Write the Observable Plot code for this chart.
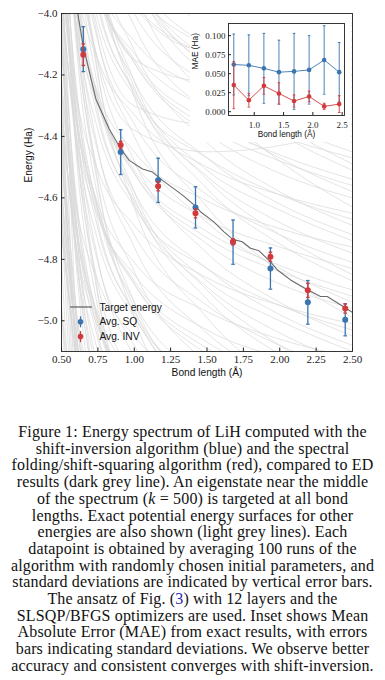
<!DOCTYPE html>
<html><head><meta charset="utf-8">
<script src="https://cdn.jsdelivr.net/npm/d3@7"></script>
<script src="https://cdn.jsdelivr.net/npm/@observablehq/plot@0.6"></script>
<style>
body{margin:0;background:#fff;width:385px;height:680px;overflow:hidden;position:relative;}
#main{position:absolute;left:0;top:0;}
#inset{position:absolute;left:190px;top:14px;}
#legend{position:absolute;left:0;top:0;}
#caption{position:absolute;left:0;top:424px;width:385px;text-align:center;font-family:"Liberation Serif",serif;font-size:16px;letter-spacing:0.15px;line-height:16.7px;color:#111;}
#caption div{white-space:nowrap;}
.ref{color:#1f1fb0;}
</style></head><body>
<div id="main"></div>
<svg id="legend" width="385" height="400"></svg>
<div id="inset"></div>
<div id="caption"></div>
<script>
// ---------- data ----------
const bondLength = [0.650, 0.907, 1.164, 1.421, 1.679, 1.936, 2.193, 2.450];
const sqEnergy  = [-4.116, -4.451, -4.543, -4.631, -4.744, -4.830, -4.940, -4.997];
const sqStd     = [0.073, 0.073, 0.072, 0.067, 0.072, 0.067, 0.071, 0.052];
const invEnergy = [-4.134, -4.428, -4.562, -4.650, -4.743, -4.792, -4.901, -4.960];
const invStd    = [0.035, 0.012, 0.015, 0.015, 0.010, 0.015, 0.023, 0.015];

const targetX = [0.605, 0.649, 0.736, 0.828, 0.908, 0.965, 1.057, 1.125, 1.194, 1.332, 1.421, 1.455, 1.547, 1.615, 1.677, 1.742, 1.799, 1.856, 1.934, 1.982, 2.074, 2.191, 2.280, 2.326, 2.447, 2.500];
const targetY = [-3.98, -4.105, -4.278, -4.376, -4.441, -4.478, -4.506, -4.516, -4.543, -4.591, -4.627, -4.645, -4.678, -4.710, -4.735, -4.743, -4.764, -4.772, -4.807, -4.834, -4.867, -4.899, -4.921, -4.921, -4.957, -4.973];

const maeSq     = [0.062, 0.061, 0.057, 0.052, 0.053, 0.055, 0.068, 0.052];
const maeSqStd  = [0.040, 0.040, 0.046, 0.042, 0.050, 0.045, 0.045, 0.039];
const maeInv    = [0.035, 0.015, 0.034, 0.024, 0.014, 0.020, 0.007, 0.010];
const maeInvStd = [0.031, 0.009, 0.011, 0.014, 0.008, 0.007, 0.004, 0.011];

const xTicks = [0.50, 0.75, 1.00, 1.25, 1.50, 1.75, 2.00, 2.25, 2.50];
const yTicks = [-5.0, -4.8, -4.6, -4.4, -4.2, -4.0];
const insetXTicks = [1.0, 1.5, 2.0, 2.5];
const insetYTicks = [0.000, 0.025, 0.050, 0.075, 0.100];

// other potential energy surfaces (light grey), sampled at surfaceX
const surfaceX = [0.5, 0.6, 0.75, 1.0, 1.5, 2.0, 2.5];
const surfaces = [
  [-2.92, -3.27, -3.54, -3.73, -3.89, -3.98, -4.04],
  [-2.49, -2.99, -3.37, -3.64, -3.87, -4.00, -4.09],
  [-1.89, -2.59, -3.12, -3.50, -3.82, -4.00, -4.13],
  [-2.82, -3.24, -3.56, -3.79, -3.99, -4.10, -4.18],
  [-2.30, -2.90, -3.36, -3.68, -3.96, -4.11, -4.22],
  [-1.71, -2.51, -3.11, -3.55, -3.91, -4.12, -4.27],
  [-2.87, -3.32, -3.66, -3.91, -4.11, -4.23, -4.31],
  [-2.60, -3.15, -3.56, -3.86, -4.11, -4.26, -4.36],
  [-3.28, -3.63, -3.90, -4.09, -4.25, -4.34, -4.40],
  [-2.85, -3.35, -3.73, -4.00, -4.23, -4.36, -4.45],
  [-2.25, -2.95, -3.48, -3.86, -4.18, -4.36, -4.49],
  [-3.18, -3.60, -3.92, -4.15, -4.35, -4.46, -4.54],
  [-2.66, -3.26, -3.72, -4.04, -4.32, -4.47, -4.58],
  [-2.07, -2.87, -3.47, -3.91, -4.27, -4.48, -4.63],
  [-3.23, -3.68, -4.02, -4.27, -4.47, -4.59, -4.67],
  [-2.96, -3.51, -3.92, -4.22, -4.47, -4.62, -4.72],
  [-3.64, -3.99, -4.26, -4.45, -4.61, -4.70, -4.76],
  [-3.21, -3.71, -4.09, -4.36, -4.59, -4.72, -4.81],
  [-2.61, -3.31, -3.84, -4.22, -4.54, -4.72, -4.85],
  [-3.54, -3.96, -4.28, -4.51, -4.71, -4.82, -4.90],
  [-3.02, -3.62, -4.08, -4.40, -4.68, -4.83, -4.94],
  [-2.43, -3.23, -3.83, -4.27, -4.63, -4.84, -4.99],
  [-3.59, -4.04, -4.38, -4.63, -4.83, -4.95, -5.03],
  [-3.32, -3.87, -4.28, -4.58, -4.83, -4.98, -5.08],
  [-4.00, -4.35, -4.62, -4.81, -4.97, -5.06, -5.12],
  [-3.57, -4.07, -4.45, -4.72, -4.95, -5.08, -5.17],
  [-2.97, -3.67, -4.20, -4.58, -4.90, -5.08, -5.21],
  [-3.90, -4.32, -4.64, -4.87, -5.07, -5.18, -5.26],
  [-3.38, -3.98, -4.44, -4.76, -5.04, -5.19, -5.30],
  [-2.79, -3.59, -4.19, -4.63, -4.99, -5.20, -5.35],
  [-3.95, -4.40, -4.74, -4.99, -5.19, -5.31, -5.39],
  [-3.68, -4.23, -4.64, -4.94, -5.19, -5.34, -5.44],
  [-4.36, -4.71, -4.98, -5.17, -5.33, -5.42, -5.48],
  [-3.93, -4.43, -4.81, -5.08, -5.31, -5.44, -5.53],
  [-3.33, -4.03, -4.56, -4.94, -5.26, -5.44, -5.57],
  [-4.26, -4.68, -5.00, -5.23, -5.43, -5.54, -5.62],
  [-3.74, -4.34, -4.80, -5.12, -5.40, -5.55, -5.66],
  [-3.15, -3.95, -4.55, -4.99, -5.35, -5.56, -5.71],
  [-4.31, -4.76, -5.10, -5.35, -5.55, -5.67, -5.75],
  [-4.04, -4.59, -5.00, -5.30, -5.55, -5.70, -5.80],
  [-4.72, -5.07, -5.34, -5.53, -5.69, -5.78, -5.84],
  [-4.29, -4.79, -5.17, -5.44, -5.67, -5.80, -5.89],
  [-3.69, -4.39, -4.92, -5.30, -5.62, -5.80, -5.93],
  [-4.62, -5.04, -5.36, -5.59, -5.79, -5.90, -5.98],
  [-4.10, -4.70, -5.16, -5.48, -5.76, -5.91, -6.02],
  [-3.51, -4.31, -4.91, -5.35, -5.71, -5.92, -6.07],
  [-4.67, -5.12, -5.46, -5.71, -5.91, -6.03, -6.11],
  [-4.40, -4.95, -5.36, -5.66, -5.91, -6.06, -6.16],
  [-5.08, -5.43, -5.70, -5.89, -6.05, -6.14, -6.20],
  [-4.65, -5.15, -5.53, -5.80, -6.03, -6.16, -6.25],
  [-4.05, -4.75, -5.28, -5.66, -5.98, -6.16, -6.29],
  [-4.98, -5.40, -5.72, -5.95, -6.15, -6.26, -6.34],
  [-4.46, -5.06, -5.52, -5.84, -6.12, -6.27, -6.38],
  [-3.87, -4.67, -5.27, -5.71, -6.07, -6.28, -6.43],
  [-2.50, -3.30, -3.85, -4.15, -4.22, -4.18, -4.08],
  [-2.90, -3.60, -4.05, -4.30, -4.36, -4.30, -4.20],
  [-3.10, -3.75, -4.15, -4.38, -4.45, -4.43, -4.36],
  [-2.20, -3.00, -3.60, -3.98, -4.12, -4.10, -4.03],
  [-2.19, -2.81, -3.24, -3.54, -3.81, -3.96, -4.06],
  [-2.91, -3.31, -3.58, -3.77, -3.95, -4.04, -4.11],
  [-1.90, -2.65, -3.16, -3.52, -3.85, -4.03, -4.15],
  [-2.77, -3.25, -3.57, -3.80, -4.01, -4.12, -4.20],
  [-2.67, -3.19, -3.55, -3.80, -4.03, -4.16, -4.24],
  [-3.16, -3.54, -3.79, -3.97, -4.14, -4.23, -4.29],
  [-2.31, -2.98, -3.44, -3.76, -4.06, -4.22, -4.33],
  [-2.65, -3.23, -3.62, -3.89, -4.15, -4.28, -4.38],
  [-2.55, -3.17, -3.60, -3.90, -4.17, -4.32, -4.42],
  [-3.27, -3.67, -3.94, -4.13, -4.31, -4.40, -4.47],
  [-2.26, -3.01, -3.52, -3.88, -4.21, -4.39, -4.51],
  [-3.13, -3.61, -3.93, -4.16, -4.37, -4.48, -4.56],
  [-3.03, -3.55, -3.91, -4.16, -4.39, -4.52, -4.60],
  [-3.52, -3.90, -4.15, -4.33, -4.50, -4.59, -4.65],
  [-2.67, -3.34, -3.80, -4.12, -4.42, -4.58, -4.69],
  [-3.01, -3.59, -3.98, -4.25, -4.51, -4.64, -4.74],
  [-2.91, -3.53, -3.96, -4.26, -4.53, -4.68, -4.78],
  [-3.63, -4.03, -4.30, -4.49, -4.67, -4.76, -4.83],
  [-2.62, -3.37, -3.88, -4.24, -4.57, -4.75, -4.87],
  [-3.49, -3.97, -4.29, -4.52, -4.73, -4.84, -4.92],
  [-3.39, -3.91, -4.27, -4.52, -4.75, -4.88, -4.96],
  [-3.88, -4.26, -4.51, -4.69, -4.86, -4.95, -5.01],
  [-3.03, -3.70, -4.16, -4.48, -4.78, -4.94, -5.05],
  [-3.37, -3.95, -4.34, -4.61, -4.87, -5.00, -5.10],
  [-3.27, -3.89, -4.32, -4.62, -4.89, -5.04, -5.14],
  [-3.99, -4.39, -4.66, -4.85, -5.03, -5.12, -5.19],
  [-2.98, -3.73, -4.24, -4.60, -4.93, -5.11, -5.23],
  [-3.85, -4.33, -4.65, -4.88, -5.09, -5.20, -5.28],
  [-3.75, -4.27, -4.63, -4.88, -5.11, -5.24, -5.32],
  [-4.24, -4.62, -4.87, -5.05, -5.22, -5.31, -5.37],
  [-3.39, -4.06, -4.52, -4.84, -5.14, -5.30, -5.41],
  [-3.73, -4.31, -4.70, -4.97, -5.23, -5.36, -5.46],
  [-3.63, -4.25, -4.68, -4.98, -5.25, -5.40, -5.50],
  [-4.35, -4.75, -5.02, -5.21, -5.39, -5.48, -5.55],
  [-3.34, -4.09, -4.60, -4.96, -5.29, -5.47, -5.59],
  [-4.21, -4.69, -5.01, -5.24, -5.45, -5.56, -5.64],
  [-4.11, -4.63, -4.99, -5.24, -5.47, -5.60, -5.68],
  [-4.60, -4.98, -5.23, -5.41, -5.58, -5.67, -5.73],
  [-3.75, -4.42, -4.88, -5.20, -5.50, -5.66, -5.77],
  [-4.09, -4.67, -5.06, -5.33, -5.59, -5.72, -5.82],
  [-3.99, -4.61, -5.04, -5.34, -5.61, -5.76, -5.86],
  [-4.71, -5.11, -5.38, -5.57, -5.75, -5.84, -5.91],
  [-3.70, -4.45, -4.96, -5.32, -5.65, -5.83, -5.95],
  [-4.57, -5.05, -5.37, -5.60, -5.81, -5.92, -6.00],
  [-4.47, -4.99, -5.35, -5.60, -5.83, -5.96, -6.04],
  [-4.96, -5.34, -5.59, -5.77, -5.94, -6.03, -6.09],
  [-4.11, -4.78, -5.24, -5.56, -5.86, -6.02, -6.13],
  [-4.45, -5.03, -5.42, -5.69, -5.95, -6.08, -6.18],
  [-4.35, -4.97, -5.40, -5.70, -5.97, -6.12, -6.22],
  [-4.06, -4.81, -5.32, -5.68, -6.01, -6.19, -6.31],
  [-4.43, -5.10, -5.56, -5.88, -6.18, -6.34, -6.45],
  [-4.35, -5.10, -5.61, -5.97, -6.30, -6.48, -6.60],
  [-3.80, -5.00, -5.80, -6.30, -6.70, -6.90, -7.00],
  [-4.20, -5.30, -6.00, -6.40, -6.80, -7.00, -7.10],
  [-4.50, -5.45, -6.10, -6.50, -6.90, -7.10, -7.20],
  [-4.80, -5.60, -6.20, -6.60, -7.00, -7.20, -7.30],
  [-4.00, -5.15, -5.90, -6.35, -6.75, -6.95, -7.05],
  [-4.35, -5.38, -6.05, -6.45, -6.85, -7.05, -7.15],
  [-4.65, -5.52, -6.15, -6.55, -6.95, -7.15, -7.25],
  [-4.95, -5.70, -6.25, -6.65, -7.05, -7.25, -7.35]
];

// ---------- build ----------
const blue = "#3a75b0", red = "#d13a3c", dark = "#6a6a6a";
const idx = d3.range(bondLength.length);
const surfData = surfaces.flatMap((row, i) => row.map((e, j) => ({curve: i, x: surfaceX[j], y: e})));
const targetData = targetX.map((x, i) => ({x, y: targetY[i]}));
const cap = w => ({draw(ctx) { ctx.moveTo(-w, 0); ctx.lineTo(w, 0); }});
const minus = s => s.replace("-", "\u2212");

function errMarks(xs, ys, ss, color, opts) {
  const {sw, capw, r} = opts;
  return [
    Plot.ruleX(idx, {x: i => xs[i], y1: i => ys[i] - ss[i], y2: i => ys[i] + ss[i], stroke: color, strokeWidth: sw}),
    Plot.dot(idx, {x: i => xs[i], y: i => ys[i] - ss[i], symbol: cap(capw), stroke: color, strokeWidth: sw, fill: "none"}),
    Plot.dot(idx, {x: i => xs[i], y: i => ys[i] + ss[i], symbol: cap(capw), stroke: color, strokeWidth: sw, fill: "none"}),
    Plot.dot(idx, {x: i => xs[i], y: i => ys[i], r, fill: color, stroke: "none"})
  ];
}

const main = Plot.plot({
  width: 385, height: 390,
  marginLeft: 61, marginRight: 33, marginTop: 13, marginBottom: 39,
  style: {background: "transparent", fontFamily: "'Liberation Serif', serif", fontSize: "11px", color: "#222"},
  x: {domain: [0.5, 2.5], label: null},
  y: {domain: [-5.1, -4.0], label: null},
  marks: [
    Plot.line(surfData, {x: "x", y: "y", z: "curve", stroke: "#d9d9d9", strokeWidth: 0.7, curve: "monotone-x", clip: true}),
    Plot.line(targetData, {x: "x", y: "y", stroke: dark, strokeWidth: 1.1, clip: true}),
    ...errMarks(bondLength, sqEnergy, sqStd, blue, {sw: 1.3, capw: 1.8, r: 3}),
    ...errMarks(bondLength, invEnergy, invStd, red, {sw: 1.3, capw: 1.8, r: 3}),
    Plot.frame({stroke: "#222", strokeWidth: 0.9}),
    Plot.axisX({ticks: xTicks, tickSize: -3.5, tickFormat: () => "", stroke: "#222"}),
    Plot.axisX({ticks: xTicks, tickSize: 0, tickPadding: 4, tickFormat: d3.format(".2f"), label: null}),
    Plot.axisY({ticks: yTicks, tickSize: -3.5, tickFormat: () => "", stroke: "#222"}),
    Plot.axisY({ticks: yTicks, tickSize: 0, tickPadding: 4, tickFormat: d => minus(d.toFixed(1)), label: null}),
    Plot.text(["Bond length (\u00c5)"], {frameAnchor: "bottom", dy: 24, fontFamily: "'Liberation Sans', Arial, sans-serif", fontSize: 10.2, fill: "#111"}),
    Plot.text(["Energy (Ha)"], {frameAnchor: "left", dx: -33, rotate: -90, fontFamily: "'Liberation Sans', Arial, sans-serif", fontSize: 10.2, fill: "#111"})
  ]
});
document.getElementById("main").append(main);

const inset = Plot.plot({
  width: 161, height: 128,
  marginLeft: 38, marginRight: 7, marginTop: 9, marginBottom: 27,
  style: {background: "#fff", fontFamily: "'Liberation Serif', serif", fontSize: "9px", color: "#222"},
  x: {domain: [0.56, 2.54], label: null},
  y: {domain: [-0.005, 0.116], label: null},
  marks: [
    Plot.line(idx, {x: i => bondLength[i], y: i => maeSq[i], stroke: blue, strokeWidth: 0.9}),
    Plot.line(idx, {x: i => bondLength[i], y: i => maeInv[i], stroke: red, strokeWidth: 0.9}),
    ...errMarks(bondLength, maeSq, maeSqStd, blue, {sw: 0.9, capw: 1.3, r: 2.3}),
    ...errMarks(bondLength, maeInv, maeInvStd, red, {sw: 0.9, capw: 1.3, r: 2.3}),
    Plot.frame({stroke: "#222", strokeWidth: 0.9}),
    Plot.axisX({ticks: insetXTicks, tickSize: -3, tickFormat: () => "", stroke: "#222"}),
    Plot.axisX({ticks: insetXTicks, tickSize: 0, tickPadding: 6, tickFormat: d3.format(".1f"), label: null}),
    Plot.axisY({ticks: insetYTicks, tickSize: -3, tickFormat: () => "", stroke: "#222"}),
    Plot.axisY({ticks: insetYTicks, tickSize: 0, tickPadding: 3, tickFormat: d3.format(".3f"), label: null}),
    Plot.text(["Bond length (\u00c5)"], {frameAnchor: "bottom", dy: 21, fontFamily: "'Liberation Sans', Arial, sans-serif", fontSize: 8.3, fill: "#111"}),
    Plot.text(["MAE (Ha)"], {frameAnchor: "left", dx: -33, rotate: -90, fontFamily: "'Liberation Sans', Arial, sans-serif", fontSize: 8.3, fill: "#111"})
  ]
});
document.getElementById("inset").append(inset);

// legend
const lg = d3.select("#legend");
const legendItems = [
  {label: "Target energy", kind: "line", color: dark},
  {label: "Avg. SQ", kind: "err", color: blue},
  {label: "Avg. INV", kind: "err", color: red}
];
legendItems.forEach((it, k) => {
  const y = 307 + k * 14.8;
  if (it.kind === "line") {
    lg.append("line").attr("x1", 70).attr("x2", 92).attr("y1", y).attr("y2", y).attr("stroke", it.color).attr("stroke-width", 1.3);
  } else {
    lg.append("line").attr("x1", 80.5).attr("x2", 80.5).attr("y1", y - 5.5).attr("y2", y + 5.5).attr("stroke", it.color).attr("stroke-width", 1.3);
    lg.append("circle").attr("cx", 80.5).attr("cy", y).attr("r", 2.8).attr("fill", it.color);
  }
  lg.append("text").attr("x", 99.5).attr("y", y).attr("dy", "0.35em").attr("font-family", "'Liberation Sans', Arial, sans-serif").attr("font-size", 10.2).attr("fill", "#111").text(it.label);
});

// caption
const captionLines = [
  "Figure 1: Energy spectrum of LiH computed with the",
  "shift-inversion algorithm (blue) and the spectral",
  "folding/shift-squaring algorithm (red), compared to ED",
  "results (dark grey line). An eigenstate near the middle",
  "of the spectrum (<i>k</i> = 500) is targeted at all bond",
  "lengths. Exact potential energy surfaces for other",
  "energies are also shown (light grey lines). Each",
  "datapoint is obtained by averaging 100 runs of the",
  "algorithm with randomly chosen initial parameters, and",
  "standard deviations are indicated by vertical error bars.",
  "The ansatz of Fig. (<span class=\"ref\">3</span>) with 12 layers and the",
  "SLSQP/BFGS optimizers are used. Inset shows Mean",
  "Absolute Error (MAE) from exact results, with errors",
  "bars indicating standard deviations. We observe better",
  "accuracy and consistent converges with shift-inversion."
];
const cap_el = document.getElementById("caption");
captionLines.forEach(t => { const d = document.createElement("div"); d.innerHTML = t; cap_el.append(d); });
</script>
</body></html>
